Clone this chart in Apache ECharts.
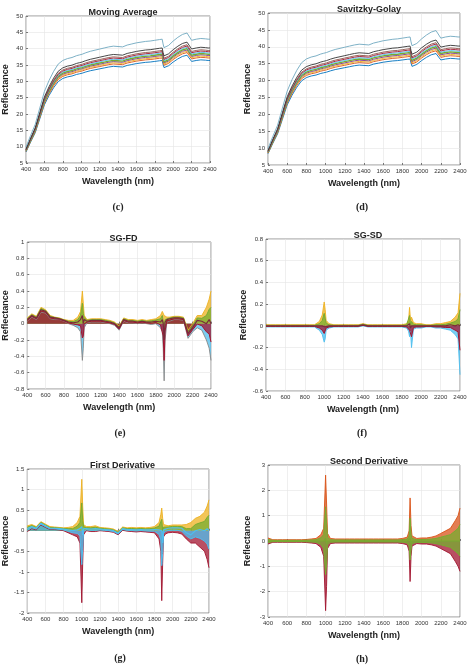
<!DOCTYPE html>
<html><head><meta charset="utf-8">
<script src="https://cdn.jsdelivr.net/npm/echarts@6/dist/echarts.min.js"></script>
<style>html,body{margin:0;padding:0;background:#fff}#c{width:474px;height:669px}</style>
</head><body><div id="c"></div>
<script>
const wavelengths=[400,450,500,550,600,650,700,750,800,850,900,950,980,1000,1010,1020,1050,1100,1150,1200,1250,1300,1350,1400,1450,1500,1550,1600,1650,1700,1750,1800,1850,1870,1880,1890,1900,1920,1950,2000,2050,2100,2150,2200,2250,2300,2350,2380,2400];
const meanReflectance=[8.8,12,15,19.5,24,27,29.5,31.5,32.5,33,33.3,33.8,34,34.2,34.2,34.3,34.6,35,35.3,35.6,35.9,36.2,36.4,36.3,36.2,36.7,37,37.3,37.5,37.7,37.8,38,38.2,38.3,38.3,37,36,35.8,36.6,37.8,38.8,39.6,40,38,38.3,38.5,38.4,38.3,38.3];
const sampleScales=[0.95,0.97,0.98,0.99,1.0,1.01,1.02,1.03,1.05,1.12];
const fdCenter=[0.05,0.1,0.07,0.17,0.15,0.08,0.07,0.06,0.04,0.02,0.01,0.02,0.05,0.1,0,0.05,0.03,0.04,0.04,0.04,0.03,0.02,0,-0.05,0.05,0.03,0.03,0.02,0.03,0.02,0.02,0.03,0.02,0.05,0,-0.2,0.02,0.05,0.06,0.07,0.07,0.06,-0.12,-0.05,0.04,0.03,0,0.05,0];
const fdUpper=[0.07,0.12,0.09,0.2,0.17,0.1,0.08,0.07,0.05,0.04,0.04,0.08,0.15,0.4,0.25,0.1,0.05,0.06,0.06,0.06,0.05,0.04,0.02,-0.03,0.07,0.05,0.05,0.04,0.05,0.04,0.05,0.06,0.1,0.15,0.17,0.1,0.08,0.08,0.08,0.09,0.09,0.08,-0.08,0.0,0.1,0.1,0.2,0.3,0.4];
const fdLower=[0.03,0.08,0.05,0.14,0.13,0.06,0.05,0.05,0.03,0.0,-0.02,-0.05,-0.1,-0.45,-0.3,-0.05,0.01,0.02,0.02,0.02,0.01,0.0,-0.02,-0.08,0.03,0.01,0.01,0.0,0.01,0.0,-0.01,0.0,-0.05,-0.1,-0.3,-0.7,-0.2,0.02,0.03,0.05,0.05,0.04,-0.18,-0.1,-0.05,-0.08,-0.2,-0.3,-0.45];
const sdCenter=[0,0,0,0,0,0,0,0,0,0,0,0,0,0.01,-0.01,0,0,0,0,0,0,0,0,0.01,0,0,0,0,0,0,0,0,0,0,0.02,-0.02,0,0,0,0,0,0,0,0,0,0.01,0,0.01,0];
const sdUpper=[0.01,0.01,0.01,0.01,0.01,0.01,0.01,0.01,0.01,0.01,0.01,0.04,0.1,0.22,0.15,0.05,0.02,0.01,0.01,0.01,0.01,0.01,0.01,0.02,0.01,0.01,0.01,0.01,0.01,0.01,0.01,0.01,0.02,0.05,0.17,0.05,0.08,0.03,0.02,0.02,0.01,0.01,0.02,0.02,0.03,0.04,0.08,0.12,0.3];
const sdLower=[-0.01,-0.01,-0.01,-0.01,-0.01,-0.01,-0.01,-0.01,-0.01,-0.01,-0.01,-0.04,-0.08,-0.15,-0.12,-0.04,-0.02,-0.01,-0.01,-0.01,-0.01,-0.01,-0.01,0,-0.01,-0.01,-0.01,-0.01,-0.01,-0.01,-0.01,-0.01,-0.02,-0.05,-0.1,-0.05,-0.2,-0.03,-0.02,-0.02,-0.01,-0.01,-0.02,-0.02,-0.03,-0.04,-0.08,-0.12,-0.45];
const d1Center=[0.05,0.1,0.06,0.18,0.12,0.06,0.06,0.05,0.04,0.02,0,0.02,0.05,0.1,-0.1,0.05,0.05,0.04,0.05,0.04,0.03,0.02,0,-0.06,0.05,0.03,0.03,0.02,0.03,0.02,0.02,0.03,0.02,0.05,0,-0.3,0.02,0.05,0.06,0.07,0.07,0.06,-0.05,-0.1,0,0.03,0,0.05,0];
const d1Upper=[0.12,0.15,0.1,0.22,0.16,0.1,0.09,0.08,0.07,0.08,0.1,0.2,0.35,1.25,0.6,0.15,0.1,0.1,0.12,0.08,0.07,0.06,0.04,-0.02,0.09,0.07,0.08,0.07,0.08,0.07,0.08,0.1,0.2,0.4,0.55,0.3,0.15,0.15,0.12,0.14,0.14,0.14,0.15,0.2,0.3,0.35,0.45,0.6,0.75];
const d1Lower=[-0.02,0.05,0.02,0.14,0.08,0.03,0.03,0.02,0.0,-0.05,-0.1,-0.15,-0.3,-1.75,-0.8,-0.1,0,-0.02,-0.02,0,-0.01,-0.02,-0.04,-0.1,0.01,-0.01,-0.02,-0.03,-0.02,-0.03,-0.04,-0.05,-0.2,-0.5,-1.7,-0.8,-0.15,-0.08,-0.05,-0.04,-0.05,-0.08,-0.2,-0.3,-0.3,-0.4,-0.5,-0.7,-0.9];
const d2Center=[0,0,0,0,0,0,0,0,0,0,0,0,0,0.1,-0.1,0,0,0,0,0,0,0,0,0,0,0,0,0,0,0,0,0,0,0,0.1,-0.1,0,0,0,0,0,0,0,0,0,0,0,0,0];
const d2Upper=[0.12,0.05,0.05,0.05,0.05,0.05,0.05,0.05,0.06,0.08,0.1,0.25,0.5,2.6,1.5,0.3,0.1,0.08,0.08,0.08,0.08,0.08,0.08,0.08,0.08,0.08,0.08,0.08,0.08,0.08,0.08,0.1,0.15,0.4,1.7,0.6,0.2,0.15,0.1,0.12,0.12,0.15,0.2,0.3,0.4,0.5,0.8,1.0,1.3];
const d2Lower=[-0.12,-0.05,-0.05,-0.05,-0.05,-0.05,-0.05,-0.05,-0.06,-0.08,-0.1,-0.25,-0.6,-2.75,-1.8,-0.3,-0.1,-0.08,-0.08,-0.08,-0.08,-0.08,-0.08,-0.08,-0.08,-0.08,-0.08,-0.08,-0.08,-0.08,-0.08,-0.1,-0.15,-0.4,-1.6,-0.6,-0.2,-0.15,-0.1,-0.12,-0.12,-0.15,-0.2,-0.3,-0.4,-0.5,-0.8,-1.0,-1.2];
const xTicks=[400,2400,200];
const palette=['#0072BD','#D95319','#EDB120','#7E2F8E','#77AC30','#4DBEEE','#A2142F','#8c564b','#333333','#6fa8bf'];

const panels=[
 {title:'Moving Average',label:'(c)',l:26,r:210,t:16,b:163,ymin:5,ymax:50,yint:5,lx:118,ly:207},
 {title:'Savitzky-Golay',label:'(d)',l:268,r:460,t:13,b:165,ymin:5,ymax:50,yint:5,lx:362,ly:207},
 {title:'SG-FD',label:'(e)',l:26,r:211,t:242,b:389,ymin:-0.8,ymax:1,yint:0.2,lx:120,ly:433},
 {title:'SG-SD',label:'(f)',l:266,r:460,t:239,b:391,ymin:-0.6,ymax:0.8,yint:0.2,lx:362,ly:433},
 {title:'First Derivative',label:'(g)',l:26,r:209,t:469,b:613,ymin:-2,ymax:1.5,yint:0.5,lx:120,ly:658},
 {title:'Second Derivative',label:'(h)',l:268,r:460,t:465,b:617,ymin:-3,ymax:3,yint:1,lx:362,ly:659}
];
const pairs=a=>wavelengths.map((w,i)=>[w,a[i]]);
const grid=[],xAxis=[],yAxis=[],title=[],series=[],graphic=[];
panels.forEach((p,k)=>{
 grid.push({left:p.l,top:p.t,width:p.r-p.l,height:p.b-p.t,show:true,borderColor:'#777',borderWidth:0.8});
 xAxis.push({type:'value',gridIndex:k,min:xTicks[0],max:xTicks[1],interval:xTicks[2],
  name:'Wavelength (nm)',nameLocation:'middle',nameGap:14,nameTextStyle:{fontSize:9,fontWeight:'bold',color:'#222',fontFamily:'Liberation Sans'},
  axisLine:{show:false},axisTick:{inside:true,length:2,lineStyle:{color:'#777'}},
  axisLabel:{fontSize:6,color:'#333',margin:3,fontFamily:'Liberation Sans',formatter:v=>String(v)},splitLine:{lineStyle:{color:'#e4e4e4',width:0.6}}});
 yAxis.push({type:'value',gridIndex:k,min:p.ymin,max:p.ymax,interval:p.yint,
  name:'Reflectance',nameLocation:'middle',nameGap:k==3?18:16,nameTextStyle:{fontSize:9,fontWeight:'bold',color:'#222',fontFamily:'Liberation Sans'},
  axisLine:{show:false},axisTick:{inside:true,length:2,lineStyle:{color:'#777'}},
  axisLabel:{fontSize:6,color:'#333',margin:3,fontFamily:'Liberation Sans',formatter:v=>String(+v.toFixed(1))},splitLine:{lineStyle:{color:'#e4e4e4',width:0.6}}});
 title.push({text:p.title,left:(p.l+p.r)/2,top:p.t-13,textAlign:'center',textStyle:{fontSize:9,fontWeight:'bold',color:'#222',fontFamily:'Liberation Sans'}});
 graphic.push({type:'text',x:p.lx,y:p.ly,style:{text:p.label,font:'bold 10px "Liberation Serif"',fill:'#222',textAlign:'center',textVerticalAlign:'middle'}});
 const line=(data,color,w,area)=>series.push({type:'line',xAxisIndex:k,yAxisIndex:k,data:pairs(data),showSymbol:false,silent:true,
   lineStyle:{color,width:w||0.9},areaStyle:area?{color:area,opacity:0.75,origin:0}:undefined});
 if(k<2){
  sampleScales.forEach((s,j)=>line(meanReflectance.map(v=>+(v*s).toFixed(2)),palette[j],j==4?1.4:0.9));
 } else {
  const sets=[[fdCenter,fdUpper,fdLower,['#EDB120','#4DBEEE','#A2142F']],
   [sdCenter,sdUpper,sdLower,['#EDB120','#4DBEEE','#A2142F']],
   [d1Center,d1Upper,d1Lower,['#EDB120','#A2142F','#4DBEEE']],
   [d2Center,d2Upper,d2Lower,['#D95319','#A2142F','#77AC30']]][k-2];
  line(sets[1],sets[3][0],0.9,sets[3][0]);
  line(sets[2],k==2?'#888':sets[3][1],0.9,sets[3][1]);
  line(sets[0].map((v,i)=>+((v+sets[1][i])/2).toFixed(3)),'#77AC30',1,'#77AC30');
  line(sets[0].map((v,i)=>+((v+sets[2][i])/2).toFixed(3)),sets[3][2],1,sets[3][2]);
  line(sets[0],k==4?'#4DBEEE':(k==5?'#77AC30':'#7a2a3a'),1.2);
 }
});
const chart=echarts.init(document.getElementById('c'));
chart.setOption({animation:false,backgroundColor:'#fff',grid,xAxis,yAxis,title,series,graphic});
</script></body></html>
